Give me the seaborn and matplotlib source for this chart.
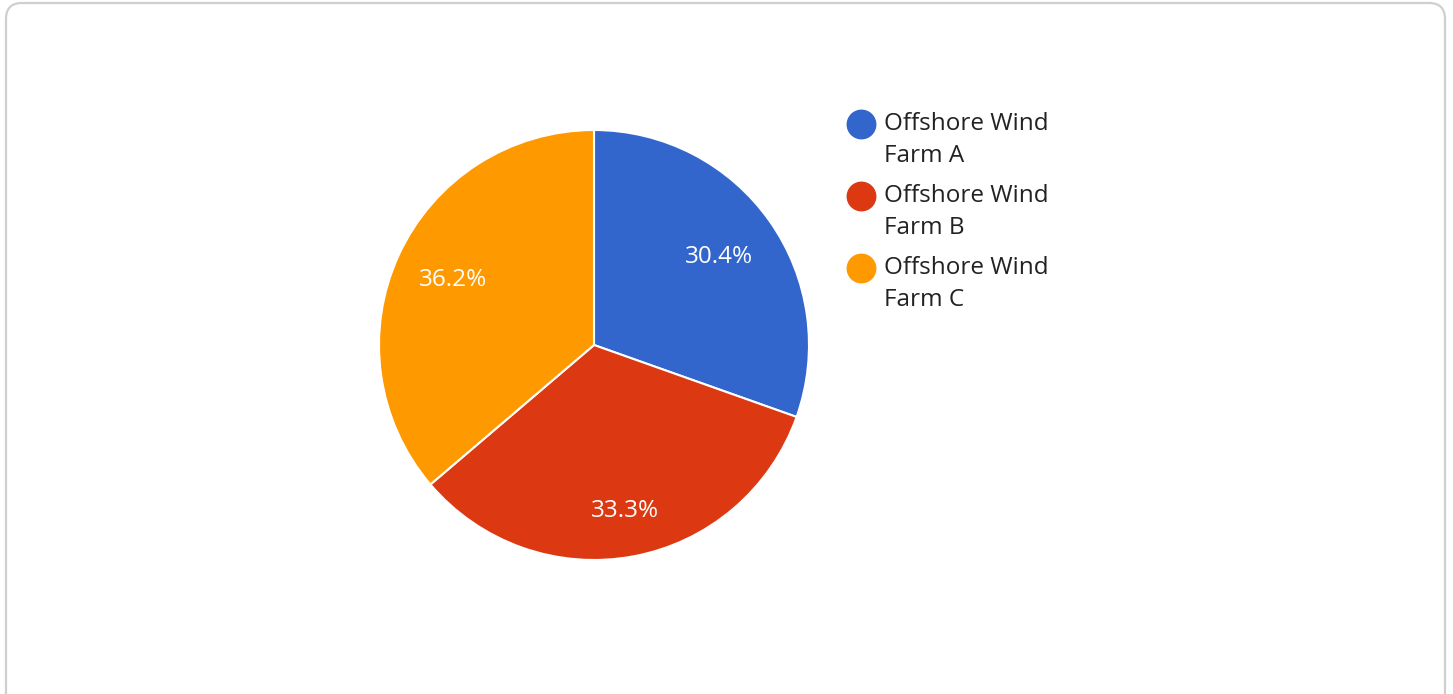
import numpy as np
import matplotlib.pyplot as plt
import seaborn as sns
from matplotlib.patches import FancyBboxPatch

sns.set_theme(style="white")
plt.rcParams['font.family'] = ['Open Sans', 'DejaVu Sans']

# Data
farms = ["Offshore Wind Farm A", "Offshore Wind Farm B", "Offshore Wind Farm C"]
shares = [30.4, 33.3, 36.2]
colors = ["#3366CC", "#DC3912", "#FF9900"]
legend_lines = ["Offshore Wind\nFarm A", "Offshore Wind\nFarm B", "Offshore Wind\nFarm C"]
label_dist = [0.71, 0.786, 0.72]  # how far out each % label sits

W, H = 1453, 694
fig = plt.figure(figsize=(W / 100, H / 100), dpi=100)
fig.patch.set_facecolor("white")

# overlay in pixel coords for frame + legend
bg = fig.add_axes([0, 0, 1, 1])
bg.set_xlim(0, W)
bg.set_ylim(H, 0)
bg.axis("off")
frame = FancyBboxPatch((6, 3), 1439, 720, boxstyle="round,pad=0,rounding_size=16",
                       facecolor="white", edgecolor="#cfcfcf", linewidth=1.6)
bg.add_patch(frame)

# pie
cx, cy, r = 594, 345, 215
ax = fig.add_axes([(cx - r) / W, (H - cy - r) / H, 2 * r / W, 2 * r / H])
wedges, texts, autotexts = ax.pie(
    shares, colors=colors, startangle=90, counterclock=False,
    autopct="%.1f%%", pctdistance=0.71, radius=1,
    wedgeprops=dict(edgecolor="white", linewidth=1.5),
    textprops=dict(color="white", fontsize=17.5))
for w, t, d in zip(wedges, autotexts, label_dist):
    ang = np.deg2rad((w.theta1 + w.theta2) / 2)
    t.set_position((d * np.cos(ang), d * np.sin(ang)))
ax.set_xlim(-1, 1)
ax.set_ylim(-1, 1)
ax.set_aspect("equal")
ax.axis("off")

# legend
lx, ly, step = 861, 124, 72
for i, (lab, col) in enumerate(zip(legend_lines, colors)):
    y = ly + i * step
    bg.scatter([lx], [y], s=420, color=col, zorder=3)
    bg.text(lx + 23, y - 12, lab, fontsize=17.5, color="#222222",
            va="top", ha="left", linespacing=1.45)

fig.savefig("out.png", dpi=100, facecolor="white")
